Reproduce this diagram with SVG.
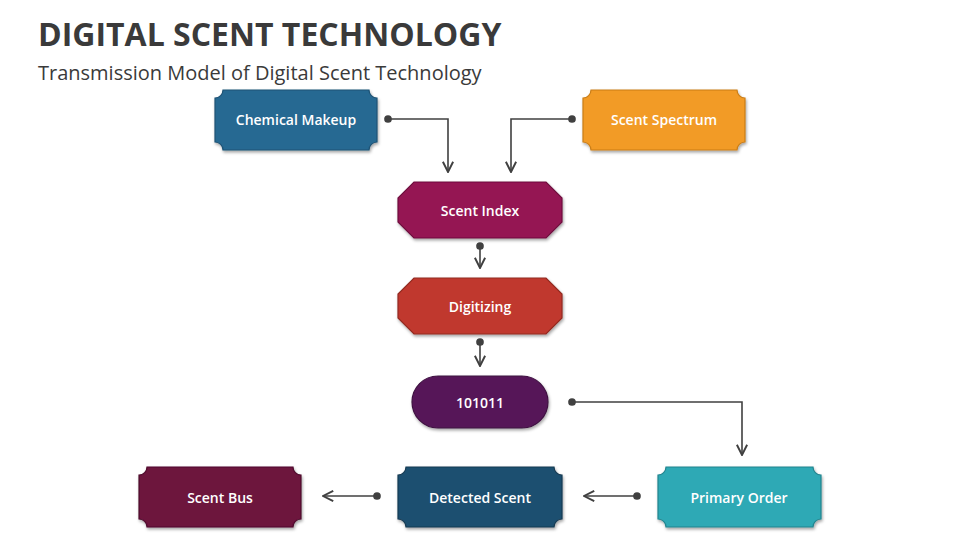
<svg xmlns="http://www.w3.org/2000/svg" width="960" height="540" viewBox="0 0 960 540">
<style>
.t{font-family:"Open Sans","Liberation Sans",sans-serif;font-size:14px;font-weight:600;fill:#fff;text-anchor:middle;dominant-baseline:central}
.c{fill:none;stroke:#404040;stroke-width:1.6}
.b{stroke-width:1.2;filter:url(#sh)}
</style>
<defs>
<marker id="a" viewBox="0 0 10 10" refX="9" refY="5" markerWidth="8" markerHeight="8" orient="auto"><path d="M1,1 L9,5 L1,9" fill="none" stroke="#404040" stroke-width="1.5"/></marker>
<marker id="d" viewBox="0 0 10 10" refX="5" refY="5" markerWidth="6" markerHeight="6"><circle cx="5" cy="5" r="4" fill="#404040"/></marker>
<filter id="sh" x="-10%" y="-10%" width="130%" height="140%"><feDropShadow dx="1" dy="2" stdDeviation="1.5" flood-opacity="0.35"/></filter>
</defs>
<rect width="960" height="540" fill="#fff"/>
<text x="38" y="46" font-family="Open Sans,Liberation Sans,sans-serif" font-size="32" font-weight="700" fill="#3a3a3a">DIGITAL SCENT TECHNOLOGY</text>
<text x="38" y="80" font-family="Open Sans,Liberation Sans,sans-serif" font-size="20" fill="#3a3a3a">Transmission Model of Digital Scent Technology</text>
<g id="connectors">
<path class="c" d="M388,119 H448 V172" marker-start="url(#d)" marker-end="url(#a)"/>
<path class="c" d="M572,119 H511 V172" marker-start="url(#d)" marker-end="url(#a)"/>
<path class="c" d="M480,246 V268" marker-start="url(#d)" marker-end="url(#a)"/>
<path class="c" d="M480,342 V366" marker-start="url(#d)" marker-end="url(#a)"/>
<path class="c" d="M572,402 H742 V455" marker-start="url(#d)" marker-end="url(#a)"/>
<path class="c" d="M637,496 H584" marker-start="url(#d)" marker-end="url(#a)"/>
<path class="c" d="M377,496 H323" marker-start="url(#d)" marker-end="url(#a)"/>
</g>
<g id="chemical-makeup"><path class="b" fill="#276992" stroke="#1d5274" d="M223,90 H369 A8,8 0 0 0 377,98 V142 A8,8 0 0 0 369,150 H223 A8,8 0 0 0 215,142 V98 A8,8 0 0 0 223,90 Z"/><text class="t" x="296" y="119">Chemical Makeup</text></g>
<g id="scent-spectrum"><path class="b" fill="#f29b26" stroke="#c97d17" d="M591,90 H737 A8,8 0 0 0 745,98 V142 A8,8 0 0 0 737,150 H591 A8,8 0 0 0 583,142 V98 A8,8 0 0 0 591,90 Z"/><text class="t" x="664" y="119">Scent Spectrum</text></g>
<g id="scent-index"><path class="b" fill="#951553" stroke="#6f0f3e" d="M414,182 H546 L562,198 V222 L546,238 H414 L398,222 V198 Z"/><text class="t" x="480" y="210">Scent Index</text></g>
<g id="digitizing"><path class="b" fill="#c0392e" stroke="#922a21" d="M414,278 H546 L562,294 V318 L546,334 H414 L398,318 V294 Z"/><text class="t" x="480" y="306">Digitizing</text></g>
<g id="n101011"><rect class="b" x="412" y="376" width="136" height="52" rx="26" fill="#561959" stroke="#3f1141"/><text class="t" x="480" y="402">101011</text></g>
<g id="scent-bus"><path class="b" fill="#6d123e" stroke="#4e0c2c" d="M147,467 H293 A8,8 0 0 0 301,475 V519 A8,8 0 0 0 293,527 H147 A8,8 0 0 0 139,519 V475 A8,8 0 0 0 147,467 Z"/><text class="t" x="220" y="497">Scent Bus</text></g>
<g id="detected-scent"><path class="b" fill="#1f5070" stroke="#153a52" d="M406,467 H554 A8,8 0 0 0 562,475 V519 A8,8 0 0 0 554,527 H406 A8,8 0 0 0 398,519 V475 A8,8 0 0 0 406,467 Z"/><text class="t" x="480" y="497">Detected Scent</text></g>
<g id="primary-order"><path class="b" fill="#2fa9b5" stroke="#22848e" d="M666,467 H813 A8,8 0 0 0 821,475 V519 A8,8 0 0 0 813,527 H666 A8,8 0 0 0 658,519 V475 A8,8 0 0 0 666,467 Z"/><text class="t" x="739" y="497">Primary Order</text></g>
</svg>
